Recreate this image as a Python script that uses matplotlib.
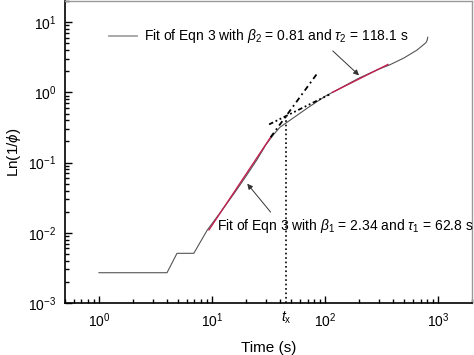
import matplotlib
matplotlib.use("Agg")
import matplotlib.pyplot as plt
from matplotlib.ticker import LogLocator, NullFormatter

plt.rcParams['font.family'] = ['Liberation Sans', 'DejaVu Sans']
plt.rcParams['mathtext.fontset'] = 'custom'
plt.rcParams['mathtext.rm'] = 'Liberation Sans'
plt.rcParams['mathtext.it'] = 'Liberation Sans:italic'
plt.rcParams['mathtext.bf'] = 'Liberation Sans:bold'

t_data = [1, 4.0, 4.9, 6.9, 9.1, 12, 16, 20, 25, 30, 35, 40, 51, 70, 100,
          130, 163, 200, 300, 370, 500, 650, 780, 800, 810]
y_data = [0.0027, 0.0027, 0.0051, 0.0051, 0.011, 0.02, 0.038, 0.064, 0.11,
          0.18, 0.25, 0.32, 0.42, 0.60, 0.88, 1.1, 1.34, 1.6, 2.15, 2.45,
          3.1, 4.0, 5.1, 5.5, 6.1]

# fits (straight in log-log, endpoints)
t_fit1 = [9.4, 33]
y_fit1 = [0.011, 0.23]
t_fit2 = [116, 360]
y_fit2 = [1.0, 2.5]

# tangent extensions
t_tanA = [33, 84]
y_tanA = [0.23, 1.8]
t_tanB = [32, 109]
y_tanB = [0.35, 0.93]

t_x = 45
y_x = 0.44

fig = plt.figure(figsize=(4.74, 3.55), dpi=100)
ax = fig.add_axes([0.137, 0.1465, 0.859, 0.8505])

ax.plot(t_data, y_data, color='#555555', lw=0.8, zorder=2)
ax.plot(t_fit1, y_fit1, color='#c02050', lw=1.0, zorder=3)
ax.plot(t_fit2, y_fit2, color='#c02050', lw=1.0, zorder=3)
ax.plot(t_tanA, y_tanA, color='black', lw=1.3, ls=(0, (3, 2, 1, 2)), zorder=4)
ax.plot(t_tanB, y_tanB, color='black', lw=1.3, ls=(0, (2.5, 1.5, 1, 1.5, 1, 1.5)), zorder=4)
ax.plot([t_x, t_x], [1e-3, y_x], color='black', lw=1.2, ls=':', zorder=4)

ax.set_xscale('log')
ax.set_yscale('log')
ax.set_xlim(0.5, 2000)
ax.set_ylim(1e-3, 20)

ax.xaxis.set_major_locator(LogLocator(base=10, numticks=10))
ax.xaxis.set_minor_locator(LogLocator(base=10, subs=range(2, 10), numticks=20))
ax.yaxis.set_major_locator(LogLocator(base=10, numticks=10))
ax.yaxis.set_minor_locator(LogLocator(base=10, subs=range(2, 10), numticks=20))
ax.xaxis.set_minor_formatter(NullFormatter())
ax.yaxis.set_minor_formatter(NullFormatter())
ax.tick_params(which='both', direction='in', top=False, right=False,
               labelsize=10, width=1, pad=6)
ax.tick_params(which='major', length=5)
ax.tick_params(which='minor', length=3)

for s in ['left', 'bottom']:
    ax.spines[s].set_linewidth(1.2)
    ax.spines[s].set_color('black')
for s in ['top', 'right']:
    ax.spines[s].set_linewidth(1.0)
    ax.spines[s].set_color('#999999')

ax.set_xlabel('Time (s)', fontsize=11, labelpad=8)
ax.set_ylabel(r'Ln(1/$\phi$)', fontsize=11, labelpad=4)

# t_x label under the axis
ax.annotate(r'$t_{\rm x}$', xy=(t_x, 1e-3), xytext=(0, -11),
            textcoords='offset points', ha='center', va='center', fontsize=10)

# upper annotation with its little legend line
ax.plot([1.23, 2.17], [6.4, 6.4], color='#999999', lw=1.2)
ax.text(2.5, 6.4, r'Fit of Eqn 3 with $\beta_2$ = 0.81 and $\tau_2$ = 118.1 s',
        fontsize=10, va='center', ha='left')
ax.annotate('', xy=(200, 1.75), xytext=(117, 3.9),
            arrowprops=dict(arrowstyle='-|>', color='#333333', lw=0.7,
                            mutation_scale=8, shrinkA=0, shrinkB=0))

# lower annotation
ax.text(11.1, 0.0126, r'Fit of Eqn 3 with $\beta_1$ = 2.34 and $\tau_1$ = 62.8 s',
        fontsize=10, va='center', ha='left')
ax.annotate('', xy=(20.5, 0.05), xytext=(33, 0.0197),
            arrowprops=dict(arrowstyle='-|>', color='#333333', lw=0.7,
                            mutation_scale=8, shrinkA=0, shrinkB=0))

fig.savefig('out.png', dpi=100)
